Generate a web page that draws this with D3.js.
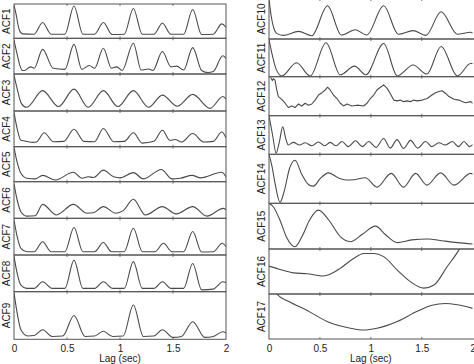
<!DOCTYPE html>
<html><head><meta charset="utf-8">
<script src="https://cdn.jsdelivr.net/npm/d3@7"></script>
<style>body{margin:0;background:#fff}svg{display:block}text{font-family:"Liberation Sans",Arial,Helvetica,sans-serif}</style>
</head><body><svg id="c" width="474" height="364"></svg>
<script>
// ---------- data ----------
const leftNames = ["ACF1","ACF2","ACF3","ACF4","ACF5","ACF6","ACF7","ACF8","ACF9"];
const rightNames = ["ACF10","ACF11","ACF12","ACF13","ACF14","ACF15","ACF16","ACF17"];
const tickValues = [0, 0.5, 1, 1.5, 2];
const tickLabels = ["0", "0.5", "1", "1.5", "2"];
const xLabel = "Lag (sec)";

const acf1 = [[0,0.97],[0.02,0.7],[0.05,0.24],[0.08,0.13],[0.19,0.12],[0.27,0.46],[0.35,0.12],[0.48,0.12],[0.566,0.94],[0.65,0.12],[0.76,0.12],[0.843,0.46],[0.925,0.11],[1.04,0.12],[1.126,0.87],[1.21,0.12],[1.32,0.12],[1.40,0.44],[1.48,0.12],[1.60,0.12],[1.686,0.84],[1.77,0.11],[1.88,0.12],[1.96,0.42],[2.0,0.32]];
const acf2 = [[0,0.95],[0.03,0.55],[0.06,0.2],[0.08,0.1],[0.1,0.1],[0.155,0.2],[0.19,0.16],[0.27,0.69],[0.37,0.16],[0.48,0.13],[0.566,0.83],[0.64,0.13],[0.71,0.24],[0.76,0.16],[0.843,0.72],[0.92,0.16],[0.97,0.2],[1.02,0.1],[1.126,0.86],[1.2,0.11],[1.27,0.14],[1.31,0.1],[1.40,0.63],[1.48,0.2],[1.535,0.22],[1.60,0.11],[1.686,0.74],[1.77,0.1],[1.83,0.04],[1.88,0.07],[1.97,0.51],[2.0,0.44]];
const acf3 = [[0,0.97],[0.03,0.6],[0.07,0.2],[0.12,0.1],[0.27,0.55],[0.42,0.12],[0.566,0.59],[0.70,0.1],[0.843,0.55],[0.98,0.12],[1.126,0.55],[1.27,0.1],[1.40,0.43],[1.54,0.13],[1.686,0.45],[1.85,0.07],[1.97,0.39],[2.0,0.32]];
const acf4 = [[0,0.96],[0.03,0.5],[0.065,0.18],[0.1,0.16],[0.18,0.12],[0.21,0.13],[0.286,0.39],[0.37,0.14],[0.47,0.15],[0.566,0.49],[0.66,0.15],[0.76,0.14],[0.843,0.51],[0.94,0.14],[1.04,0.15],[1.126,0.39],[1.21,0.1],[1.32,0.15],[1.40,0.46],[1.47,0.18],[1.52,0.2],[1.58,0.13],[1.686,0.37],[1.79,0.13],[1.88,0.15],[1.96,0.41],[2.0,0.25]];
const acf5 = [[0,0.98],[0.03,0.55],[0.065,0.24],[0.12,0.1],[0.2,0.08],[0.27,0.18],[0.39,0.05],[0.56,0.27],[0.64,0.1],[0.70,0.14],[0.75,0.12],[0.843,0.33],[0.94,0.14],[1.0,0.11],[1.126,0.26],[1.22,0.08],[1.39,0.35],[1.49,0.08],[1.57,0.1],[1.68,0.18],[1.76,0.11],[1.96,0.27],[2.0,0.14]];
const acf6 = [[0,0.95],[0.03,0.5],[0.065,0.18],[0.12,0.06],[0.2,0.07],[0.27,0.38],[0.40,0.09],[0.56,0.38],[0.69,0.14],[0.75,0.15],[0.843,0.32],[0.96,0.14],[1.03,0.21],[1.126,0.52],[1.24,0.09],[1.40,0.32],[1.53,0.12],[1.686,0.32],[1.82,0.06],[1.975,0.27],[2.0,0.23]];
const acf7 = [[0,0.95],[0.03,0.5],[0.065,0.18],[0.12,0.09],[0.19,0.09],[0.27,0.36],[0.35,0.09],[0.48,0.09],[0.566,0.75],[0.65,0.09],[0.76,0.09],[0.843,0.34],[0.92,0.09],[1.04,0.09],[1.126,0.73],[1.21,0.09],[1.33,0.09],[1.41,0.32],[1.49,0.09],[1.60,0.09],[1.686,0.64],[1.77,0.08],[1.88,0.09],[1.965,0.32],[2.0,0.23]];
const acf8 = [[0,0.97],[0.03,0.5],[0.065,0.18],[0.12,0.09],[0.19,0.09],[0.27,0.27],[0.36,0.09],[0.48,0.09],[0.566,0.86],[0.65,0.09],[0.76,0.09],[0.843,0.27],[0.93,0.09],[1.04,0.09],[1.126,0.82],[1.21,0.09],[1.32,0.09],[1.40,0.27],[1.48,0.09],[1.60,0.09],[1.686,0.77],[1.77,0.05],[1.88,0.07],[1.97,0.27],[2.0,0.25]];
const acf9 = [[0,0.98],[0.03,0.55],[0.065,0.2],[0.13,0.07],[0.19,0.08],[0.27,0.2],[0.36,0.06],[0.46,0.07],[0.566,0.5],[0.67,0.06],[0.76,0.07],[0.843,0.17],[0.93,0.06],[1.03,0.07],[1.126,0.72],[1.22,0.06],[1.32,0.07],[1.40,0.2],[1.5,0.04],[1.58,0.06],[1.686,0.37],[1.8,0.04],[1.88,0.06],[1.97,0.16],[2.0,0.13]];

const acf10 = [[0,1.0],[0.02,0.6],[0.05,0.25],[0.075,0.14],[0.14,0.09],[0.29,0.19],[0.42,0.08],[0.575,0.83],[0.71,0.1],[0.847,0.23],[0.96,0.1],[1.126,0.83],[1.27,0.12],[1.415,0.21],[1.54,0.09],[1.69,0.68],[1.85,0.12],[1.98,0.17],[2.0,0.15]];
const acf11 = [[0,0.99],[0.03,0.6],[0.07,0.2],[0.125,0.02],[0.27,0.37],[0.405,0.02],[0.56,0.9],[0.70,0.05],[0.84,0.28],[0.95,0.05],[1.126,0.88],[1.26,0.02],[1.415,0.31],[1.55,0.07],[1.69,0.8],[1.85,0.02],[1.98,0.35],[2.0,0.35]];
const acf12 = [[0.016,0.98],[0.033,0.9],[0.043,0.95],[0.059,0.91],[0.076,0.66],[0.092,0.49],[0.125,0.42],[0.158,0.32],[0.19,0.21],[0.223,0.25],[0.256,0.21],[0.289,0.3],[0.322,0.25],[0.355,0.32],[0.388,0.27],[0.42,0.3],[0.453,0.4],[0.486,0.53],[0.52,0.59],[0.552,0.66],[0.575,0.73],[0.6,0.66],[0.634,0.53],[0.667,0.44],[0.7,0.32],[0.732,0.25],[0.765,0.3],[0.814,0.25],[0.864,0.27],[0.929,0.25],[0.962,0.32],[0.995,0.44],[1.028,0.53],[1.06,0.66],[1.094,0.73],[1.126,0.79],[1.16,0.7],[1.19,0.57],[1.225,0.4],[1.258,0.38],[1.29,0.4],[1.32,0.36],[1.356,0.38],[1.39,0.36],[1.42,0.4],[1.455,0.38],[1.504,0.4],[1.553,0.44],[1.6,0.53],[1.635,0.59],[1.668,0.62],[1.7,0.64],[1.734,0.57],[1.767,0.49],[1.816,0.42],[1.865,0.4],[1.9,0.36],[1.93,0.33],[1.98,0.36],[2.0,0.32]];
const acf13 = [[0,1.0],[0.035,0.5],[0.07,0.03],[0.1,0.3],[0.135,0.71],[0.165,0.4],[0.19,0.24],[0.24,0.31],[0.30,0.24],[0.355,0.3],[0.42,0.22],[0.486,0.32],[0.545,0.22],[0.60,0.31],[0.66,0.22],[0.716,0.33],[0.78,0.2],[0.85,0.35],[0.915,0.2],[0.98,0.33],[1.05,0.18],[1.126,0.41],[1.19,0.16],[1.258,0.38],[1.32,0.15],[1.39,0.36],[1.46,0.16],[1.537,0.33],[1.6,0.2],[1.668,0.3],[1.73,0.24],[1.80,0.33],[1.86,0.2],[1.914,0.33],[1.97,0.2],[2.0,0.25]];
const acf14 = [[0,1.0],[0.03,0.75],[0.06,0.4],[0.108,0.02],[0.15,0.25],[0.2,0.7],[0.256,0.88],[0.32,0.6],[0.39,0.38],[0.437,0.35],[0.5,0.5],[0.585,0.62],[0.68,0.52],[0.765,0.475],[0.83,0.48],[0.946,0.52],[1.06,0.33],[1.2,0.61],[1.32,0.33],[1.44,0.61],[1.55,0.37],[1.685,0.62],[1.816,0.37],[1.98,0.61],[2.0,0.6]];
const acf15 = [[0,1.0],[0.04,0.93],[0.11,0.62],[0.17,0.27],[0.256,0.05],[0.33,0.3],[0.40,0.64],[0.486,0.85],[0.585,0.64],[0.70,0.27],[0.8,0.16],[0.92,0.33],[1.045,0.5],[1.15,0.3],[1.26,0.14],[1.4,0.2],[1.56,0.22],[1.7,0.18],[1.85,0.14],[2.0,0.11]];
const acf16 = [[0,0.62],[0.1,0.55],[0.24,0.47],[0.37,0.45],[0.535,0.4],[0.62,0.46],[0.7,0.57],[0.83,0.79],[0.93,0.9],[1.03,0.9],[1.126,0.83],[1.26,0.53],[1.39,0.27],[1.52,0.13],[1.62,0.2],[1.75,0.61],[1.865,0.98],[1.95,1.35],[2.0,1.6]];
const acf17 = [[0,1.3],[0.075,1.0],[0.2,0.83],[0.37,0.64],[0.57,0.39],[0.8,0.24],[0.93,0.2],[1.06,0.24],[1.26,0.39],[1.45,0.61],[1.6,0.75],[1.73,0.79],[1.85,0.76],[2.0,0.68]];

const leftSeries = [acf1, acf2, acf3, acf4, acf5, acf6, acf7, acf8, acf9];
const rightSeries = [acf10, acf11, acf12, acf13, acf14, acf15, acf16, acf17];

// ---------- layout ----------
const leftEdges = [4, 38.3, 74, 111, 146.7, 181.7, 218.3, 255, 291.7, 339.3];
const rightEdges = [-1, 39, 76.7, 115.7, 154.3, 203.3, 249, 294, 339];
const frameColor = "#555", lineColor = "#4a4a4a", textColor = "#222";

const svg = d3.select("#c");
const defs = svg.append("defs");

function drawColumn(id, names, series, edges, x0, x1, boxRight, labelX, linearIdx) {
  const x = d3.scaleLinear().domain([0, 2]).range([x0, x1]);
  const g = svg.append("g");
  names.forEach((name, i) => {
    const top = edges[i], bot = edges[i + 1];
    const y = d3.scaleLinear().domain([0, 1]).range([bot, top]);
    const cid = `clip-${id}-${i}`;
    defs.append("clipPath").attr("id", cid).append("rect")
      .attr("x", x0).attr("y", top).attr("width", x1 - x0).attr("height", bot - top);
    const line = d3.line().x(d => x(d[0])).y(d => y(d[1]))
      .curve(linearIdx.includes(i) ? d3.curveLinear : d3.curveMonotoneX);
    g.append("path").datum(series[i]).attr("d", line)
      .attr("clip-path", `url(#${cid})`)
      .attr("fill", "none").attr("stroke", lineColor).attr("stroke-width", 1.1)
      .attr("stroke-linejoin", "round");
    [0.5, 1, 1.5].forEach(t => {
      g.append("line").attr("x1", x(t)).attr("x2", x(t)).attr("y1", top).attr("y2", top + 2)
        .attr("stroke", frameColor).attr("stroke-width", 0.8);
      g.append("line").attr("x1", x(t)).attr("x2", x(t)).attr("y1", bot).attr("y2", bot - 2)
        .attr("stroke", frameColor).attr("stroke-width", 0.8);
    });
    g.append("rect").attr("x", x0).attr("y", top).attr("width", boxRight - x0).attr("height", bot - top)
      .attr("fill", "none").attr("stroke", frameColor).attr("stroke-width", 1);
    g.append("text").attr("transform", `translate(${labelX},${(top + bot) / 2}) rotate(-90)`)
      .attr("text-anchor", "middle").attr("font-size", 10).attr("fill", textColor).text(name);
  });
  const yAxis = edges[edges.length - 1];
  const axis = d3.axisBottom(x).tickValues(tickValues).tickFormat((d, i) => tickLabels[i]).tickSize(0).tickPadding(5.5);
  const ag = svg.append("g").attr("transform", `translate(0,${yAxis})`).call(axis);
  ag.select(".domain").remove();
  ag.selectAll("text").attr("font-size", 10).attr("fill", textColor)
    .style("font-family", '"Liberation Sans",Arial,sans-serif');
  svg.append("text").attr("x", x(1)).attr("y", 362).attr("text-anchor", "middle")
    .attr("font-size", 10).attr("fill", textColor).text(xLabel);
}

drawColumn("L", leftNames, leftSeries, leftEdges, 14, 226, 226, 10, []);
drawColumn("R", rightNames, rightSeries, rightEdges, 269, 472.7, 480, 265, [2]);
</script></body></html>
